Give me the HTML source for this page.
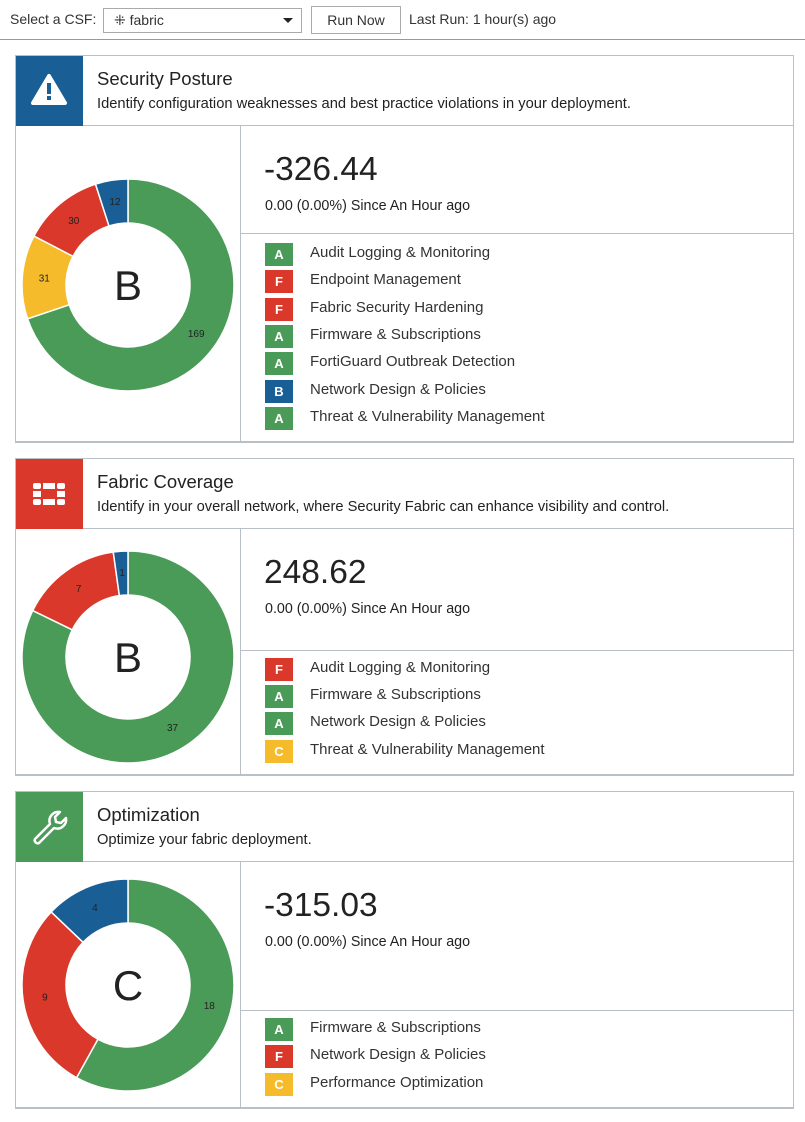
<!DOCTYPE html>
<html><head><meta charset="utf-8"><style>
*{box-sizing:border-box;margin:0;padding:0}
body{width:805px;height:1122px;background:#fff;font-family:"Liberation Sans",sans-serif;color:#333;position:relative;overflow:hidden}
.a{position:absolute}
.top{font-size:14px}
.panel{position:absolute;left:15px;width:779px;border:1px solid #b9bfc6;border-bottom:2px solid #b9bfc6}
.ico{position:absolute;left:0;top:0;width:67px;height:70px}
.hd{position:absolute;left:0;top:0;width:100%;height:70px;border-bottom:1px solid #b9bfc6}
.t1{position:absolute;left:81px;top:12px;font-size:18.5px;color:#222}
.t2{position:absolute;left:81px;top:40px;font-size:14.7px;color:#222}
.vl{position:absolute;left:224px;top:70px;bottom:0;border-left:1px solid #b9bfc6}
.score{position:absolute;left:248px;font-size:33.5px;color:#222}
.since{position:absolute;left:249px;font-size:14.3px;color:#222}
.hl{position:absolute;left:225px;right:0;border-top:1px solid #b9bfc6}
.row{position:absolute;left:249px;height:23px;font-size:15px}
.b{position:absolute;left:0;top:0;width:28px;height:23px;color:#fff;font-weight:bold;font-size:13px;text-align:center;line-height:23px}
.row span.l{position:absolute;left:45px;top:1px;white-space:nowrap}
.G{background:#4a9a58}.R{background:#d9382a}.Y{background:#f5bb2b}.B{background:#1a5e96}
</style></head><body>
<div class="a top" style="left:10px;top:11px">Select a CSF:</div>
<div class="a" style="left:103px;top:8px;width:199px;height:25px;border:1px solid #aaa;font-size:14px;padding:3px 0 0 10px">⁜ fabric<span style="position:absolute;right:8px;top:9px;border-left:5px solid transparent;border-right:5px solid transparent;border-top:5px solid #222"></span></div>
<div class="a" style="left:311px;top:6px;width:90px;height:28px;border:1px solid #aaa;font-size:14px;text-align:center;line-height:26px">Run Now</div>
<div class="a top" style="left:409px;top:11px">Last Run: 1 hour(s) ago</div>
<div class="a" style="left:0;top:39px;width:805px;border-top:1px solid #999"></div>

<div class="panel" style="top:55px;height:388px">
 <div class="hd"></div>
 <div class="ico B"><svg width="67" height="70"><polygon points="33,20 49,47 17,47" fill="#fff" stroke="#fff" stroke-width="4" stroke-linejoin="round"/><rect x="31" y="27" width="4" height="11" fill="#1a5e96"/><rect x="31" y="40" width="4" height="4" fill="#1a5e96"/></svg></div>
 <div class="t1">Security Posture</div>
 <div class="t2">Identify configuration weaknesses and best practice violations in your deployment.</div>
 <div class="vl"></div>
 <svg class="a" id="d1" style="left:0;top:70px" width="224" height="316"></svg>
 <div class="score" style="top:95px">-326.44</div>
 <div class="since" style="top:142px">0.00 (0.00%) Since An Hour ago</div>
 <div class="hl" style="top:177px"></div>
 <div class="row" style="top:187px"><div class="b G">A</div><span class="l">Audit Logging &amp; Monitoring</span></div>
 <div class="row" style="top:214px"><div class="b R">F</div><span class="l">Endpoint Management</span></div>
 <div class="row" style="top:242px"><div class="b R">F</div><span class="l">Fabric Security Hardening</span></div>
 <div class="row" style="top:269px"><div class="b G">A</div><span class="l">Firmware &amp; Subscriptions</span></div>
 <div class="row" style="top:296px"><div class="b G">A</div><span class="l">FortiGuard Outbreak Detection</span></div>
 <div class="row" style="top:324px"><div class="b B">B</div><span class="l">Network Design &amp; Policies</span></div>
 <div class="row" style="top:351px"><div class="b G">A</div><span class="l">Threat &amp; Vulnerability Management</span></div>
</div>

<div class="panel" style="top:458px;height:318px">
 <div class="hd"></div>
 <div class="ico R"><svg width="67" height="70"><g fill="#fff"><rect x="17" y="24" width="8" height="6" rx="2"/><rect x="27" y="24" width="12" height="6"/><rect x="41" y="24" width="8" height="6" rx="2"/><rect x="17" y="32" width="8" height="6"/><rect x="41" y="32" width="8" height="6"/><rect x="17" y="40" width="8" height="6" rx="2"/><rect x="27" y="40" width="12" height="6"/><rect x="41" y="40" width="8" height="6" rx="2"/></g></svg></div>
 <div class="t1">Fabric Coverage</div>
 <div class="t2">Identify in your overall network, where Security Fabric can enhance visibility and control.</div>
 <div class="vl"></div>
 <svg class="a" id="d2" style="left:0;top:70px" width="224" height="246"></svg>
 <div class="score" style="top:95px">248.62</div>
 <div class="since" style="top:142px">0.00 (0.00%) Since An Hour ago</div>
 <div class="hl" style="top:191px"></div>
 <div class="row" style="top:199px"><div class="b R">F</div><span class="l">Audit Logging &amp; Monitoring</span></div>
 <div class="row" style="top:226px"><div class="b G">A</div><span class="l">Firmware &amp; Subscriptions</span></div>
 <div class="row" style="top:253px"><div class="b G">A</div><span class="l">Network Design &amp; Policies</span></div>
 <div class="row" style="top:281px"><div class="b Y">C</div><span class="l">Threat &amp; Vulnerability Management</span></div>
</div>

<div class="panel" style="top:791px;height:318px">
 <div class="hd"></div>
 <div class="ico G"><svg width="67" height="70"><path d="M44 20 a9 9 0 0 0 -10 12 L19 47 a3 3 0 0 0 4 4 L38 36 a9 9 0 0 0 12 -10 l-5 5 -5 -1 -1 -5 z" fill="none" stroke="#fff" stroke-width="2.5" stroke-linejoin="round"/></svg></div>
 <div class="t1">Optimization</div>
 <div class="t2">Optimize your fabric deployment.</div>
 <div class="vl"></div>
 <svg class="a" id="d3" style="left:0;top:70px" width="224" height="246"></svg>
 <div class="score" style="top:95px">-315.03</div>
 <div class="since" style="top:142px">0.00 (0.00%) Since An Hour ago</div>
 <div class="hl" style="top:218px"></div>
 <div class="row" style="top:226px"><div class="b G">A</div><span class="l">Firmware &amp; Subscriptions</span></div>
 <div class="row" style="top:253px"><div class="b R">F</div><span class="l">Network Design &amp; Policies</span></div>
 <div class="row" style="top:281px"><div class="b Y">C</div><span class="l">Performance Optimization</span></div>
</div>

<script>
function donut(id,cy,segs,grade){
 var s=document.getElementById(id),cx=112,R=106,r=62,tot=0,h='';
 segs.forEach(function(x){tot+=x[0]});
 var a=0;
 segs.forEach(function(x){
  var a2=a+x[0]/tot*2*Math.PI;
  function p(rad,t){return [cx+rad*Math.sin(t),cy-rad*Math.cos(t)]}
  var l=(a2-a)>Math.PI?1:0,p1=p(R,a),p2=p(R,a2),p3=p(r,a2),p4=p(r,a);
  h+='<path d="M'+p1+' A'+R+','+R+' 0 '+l+' 1 '+p2+' L'+p3+' A'+r+','+r+' 0 '+l+' 0 '+p4+' Z" fill="'+x[1]+'" stroke="#fff" stroke-width="1.5"/>';
  var m=(a+a2)/2,q=p(84,m);
  h+='<text x="'+q[0]+'" y="'+(q[1]+3)+'" font-size="10" text-anchor="middle" fill="#222" font-family="Liberation Sans">'+x[0]+'</text>';
  a=a2;});
 h+='<text x="'+cx+'" y="'+(cy+15)+'" font-size="42" text-anchor="middle" fill="#222" font-family="Liberation Sans">'+grade+'</text>';
 s.innerHTML=h;
}
var G='#4a9a58',Rr='#d9382a',Y='#f5bb2b',B='#1a5e96';
donut('d1',159,[[169,G],[31,Y],[30,Rr],[12,B]],'B');
donut('d2',128,[[37,G],[7,Rr],[1,B]],'B');
donut('d3',123,[[18,G],[9,Rr],[4,B]],'C');
</script>
</body></html>
